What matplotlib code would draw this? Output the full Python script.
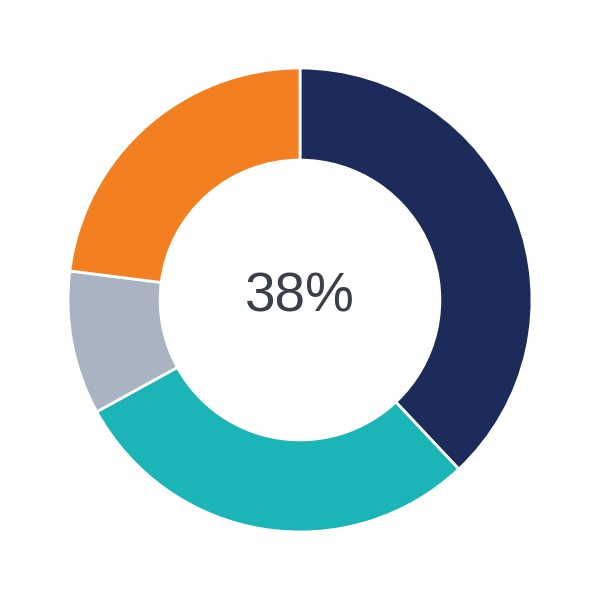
import matplotlib.pyplot as plt

labels = ['Navy', 'Teal', 'Gray', 'Orange']
shares = [38, 29, 10, 23]
colors = ['#1c2b5a', '#1bb5b8', '#a9b3c1', '#f37f20']
center_label = '38%'


def plot_donut(values, colours, text):
    fig = plt.figure(figsize=(6, 6), dpi=100)
    ax = fig.add_axes([0, 0, 1, 1])
    ax.pie(values, colors=colours, startangle=90, counterclock=False,
           radius=1.0, wedgeprops=dict(width=0.397, edgecolor='white', linewidth=2))
    ax.text(0, 0.01, text, ha='center', va='center', fontsize=39.5,
            color='#3a3f4a', family=['Liberation Sans', 'DejaVu Sans'])
    lim = 300 / 232
    ax.set_xlim(-lim, lim)
    ax.set_ylim(-lim, lim)
    ax.set_aspect('equal')
    ax.axis('off')
    fig.savefig('out.png', dpi=100, facecolor='white')


plot_donut(shares, colors, center_label)
